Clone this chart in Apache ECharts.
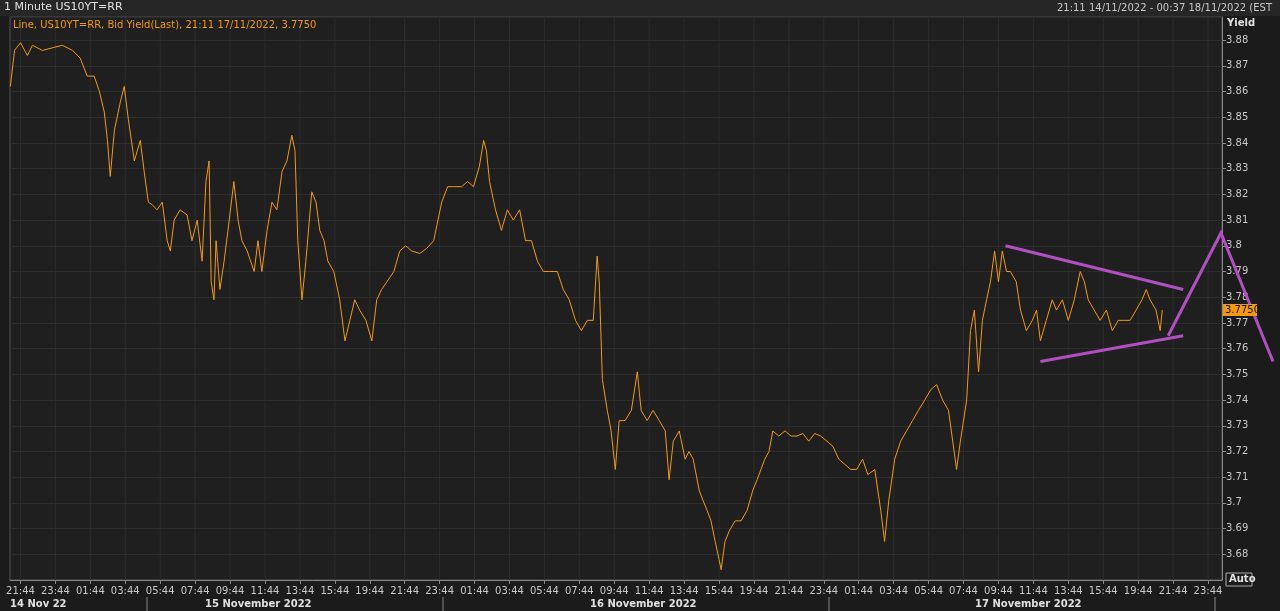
<!DOCTYPE html>
<html>
<head>
<meta charset="utf-8">
<script src="https://cdn.jsdelivr.net/npm/echarts@6/dist/echarts.min.js"></script>
<style>
  html, body { margin: 0; padding: 0; background: #1b1b1b; }
  #chart { width: 1280px; height: 611px; }
</style>
</head>
<body>
<div id="chart"></div>
<script>
// tick labels (one per 2-hour slot, 17:44 gap skipped)
var dayTicks = ['01:44', '03:44', '05:44', '07:44', '09:44', '11:44', '13:44', '15:44', '19:44', '21:44', '23:44'];
var tickLabels = ['21:44', '23:44'].concat(dayTicks, dayTicks, dayTicks);
var dayLabels = ['14 Nov 22', '15 November 2022', '16 November 2022', '17 November 2022'];

// x in tick slots (0 = 21:44 14 Nov), y = bid yield
var slots = [-0.29, -0.17, 0, 0.2, 0.34, 0.63, 0.91, 1.2, 1.49, 1.71, 1.91, 2.11, 2.26, 2.4, 2.49, 2.57, 2.69, 2.86, 2.97, 3.09,
  3.26, 3.43, 3.54, 3.66, 3.77, 3.91, 4.06, 4.2, 4.29, 4.4, 4.57, 4.77, 4.91, 5.06, 5.2, 5.31, 5.4, 5.46, 5.54, 5.6,
  5.71, 5.83, 5.94, 6.11, 6.23, 6.34, 6.49, 6.69, 6.8, 6.91, 7.06, 7.2, 7.34, 7.49, 7.63, 7.77, 7.86, 7.94, 8.06, 8.17,
  8.34, 8.46, 8.57, 8.69, 8.8, 8.97, 9.14, 9.29, 9.43, 9.57, 9.71, 9.89, 10.06, 10.2, 10.34, 10.49, 10.69, 10.86, 11.03, 11.2,
  11.43, 11.63, 11.83, 12.06, 12.23, 12.4, 12.63, 12.8, 12.97, 13.14, 13.26, 13.34, 13.43, 13.6, 13.77, 13.94, 14.11, 14.29, 14.46, 14.63,
  14.8, 14.97, 15.14, 15.37, 15.54, 15.71, 15.89, 16.06, 16.23, 16.4, 16.51, 16.57, 16.66, 16.8, 16.91, 17.03, 17.14, 17.31, 17.49, 17.66,
  17.77, 17.94, 18.11, 18.29, 18.46, 18.57, 18.69, 18.86, 19.03, 19.14, 19.26, 19.43, 19.54, 19.66, 19.77, 19.89, 20, 20.06, 20.17, 20.29,
  20.46, 20.63, 20.8, 20.97, 21.09, 21.2, 21.31, 21.43, 21.54, 21.71, 21.89, 22.06, 22.23, 22.4, 22.57, 22.74, 22.91, 23.09, 23.26, 23.43,
  23.6, 23.77, 23.94, 24.11, 24.26, 24.46, 24.63, 24.74, 24.86, 25.03, 25.2, 25.37, 25.54, 25.71, 25.89, 26.06, 26.23, 26.4, 26.57, 26.69,
  26.8, 26.91, 27.09, 27.2, 27.31, 27.43, 27.54, 27.66, 27.77, 27.89, 28, 28.11, 28.23, 28.34, 28.51, 28.63, 28.8, 28.97, 29.09, 29.2,
  29.37, 29.54, 29.66, 29.83, 30, 30.17, 30.34, 30.46, 30.57, 30.74, 30.91, 31.09, 31.26, 31.43, 31.6, 31.77, 31.94, 32.11, 32.23, 32.34,
  32.51, 32.63, 32.69];
var yields = [3.862, 3.876, 3.879, 3.874, 3.878, 3.876, 3.877, 3.878, 3.876, 3.873, 3.866, 3.866, 3.860, 3.852, 3.841, 3.827, 3.845, 3.856, 3.862, 3.849,
  3.833, 3.841, 3.829, 3.817, 3.816, 3.814, 3.817, 3.802, 3.798, 3.810, 3.814, 3.812, 3.802, 3.810, 3.794, 3.825, 3.833, 3.786, 3.779, 3.802,
  3.783, 3.794, 3.806, 3.825, 3.810, 3.802, 3.798, 3.790, 3.802, 3.790, 3.806, 3.817, 3.814, 3.829, 3.833, 3.843, 3.837, 3.802, 3.779, 3.794,
  3.821, 3.817, 3.806, 3.802, 3.794, 3.790, 3.779, 3.763, 3.771, 3.779, 3.775, 3.771, 3.763, 3.779, 3.783, 3.786, 3.790, 3.798, 3.800, 3.798,
  3.797, 3.799, 3.802, 3.817, 3.823, 3.823, 3.823, 3.825, 3.823, 3.831, 3.841, 3.837, 3.825, 3.814, 3.806, 3.814, 3.810, 3.814, 3.802, 3.802,
  3.794, 3.790, 3.790, 3.790, 3.783, 3.779, 3.771, 3.767, 3.771, 3.771, 3.796, 3.786, 3.748, 3.736, 3.728, 3.713, 3.732, 3.732, 3.736, 3.751,
  3.736, 3.732, 3.736, 3.732, 3.728, 3.709, 3.724, 3.728, 3.717, 3.720, 3.717, 3.705, 3.701, 3.697, 3.693, 3.685, 3.678, 3.674, 3.685, 3.689,
  3.693, 3.693, 3.697, 3.705, 3.709, 3.713, 3.717, 3.720, 3.728, 3.726, 3.728, 3.726, 3.726, 3.727, 3.724, 3.727, 3.726, 3.724, 3.722, 3.717,
  3.715, 3.713, 3.713, 3.717, 3.711, 3.713, 3.697, 3.685, 3.701, 3.717, 3.724, 3.728, 3.732, 3.736, 3.740, 3.744, 3.746, 3.740, 3.736, 3.724,
  3.713, 3.724, 3.740, 3.767, 3.775, 3.751, 3.771, 3.779, 3.786, 3.798, 3.786, 3.798, 3.790, 3.790, 3.786, 3.775, 3.767, 3.771, 3.775, 3.763,
  3.771, 3.779, 3.775, 3.779, 3.771, 3.779, 3.790, 3.786, 3.779, 3.775, 3.771, 3.775, 3.767, 3.771, 3.771, 3.771, 3.775, 3.779, 3.783, 3.779,
  3.775, 3.767, 3.775];
var lastValue = 3.7750;

// hand-drawn triangle / breakout annotations [slot, yield]
var trendUpper = [[28.2, 3.800], [33.29, 3.783]];
var trendLower = [[29.2, 3.755], [33.29, 3.765]];
var breakout = [[32.86, 3.765], [34.37, 3.805], [35.86, 3.755]];

var lineData = [];
for (var i = 0; i < slots.length; i++) {
  lineData.push([slots[i], yields[i]]);
}
var tickIdx = tickLabels.map(function (l, i) { return i; });

var chart = echarts.init(document.getElementById('chart'));
var txt = '#c8c8c8';
var font = '"DejaVu Sans", sans-serif';

function purple(data) {
  return {
    type: 'line', data: data, symbol: 'none', silent: true,
    lineStyle: { color: '#b04fc0', width: 3 }, z: 5
  };
}

chart.setOption({
  backgroundColor: '#1b1b1b',
  animation: false,
  textStyle: { fontFamily: font },
  grid: { left: 10, right: 58, top: 17, bottom: 31, show: true, backgroundColor: '#1f1f1f', borderColor: '#555', borderWidth: 1 },
  xAxis: {
    type: 'value', min: -0.3, max: 34.4,
    axisLine: { show: true, onZero: false, lineStyle: { color: '#888' } },
    axisTick: { show: true, customValues: tickIdx, length: 4, lineStyle: { color: '#888' } },
    axisLabel: {
      customValues: tickIdx,
      formatter: function (v) { return tickLabels[Math.round(v)]; },
      color: txt, fontSize: 10, margin: 6
    },
    splitLine: { show: false }
  },
  yAxis: {
    type: 'value', position: 'right', min: 3.67, max: 3.889, interval: 0.01,
    axisLine: { show: true, onZero: false, lineStyle: { color: '#888' } },
    axisTick: { show: true, length: 4, lineStyle: { color: '#888' } },
    axisLabel: {
      showMinLabel: false, showMaxLabel: false, color: txt, fontSize: 10, margin: 4,
      formatter: function (v) { return String(+v.toFixed(2)); }
    },
    splitLine: { show: true, lineStyle: { color: '#2c2c2c' } }
  },
  series: [
    { type: 'line', data: lineData, symbol: 'none', lineStyle: { color: '#f39a0d', width: 1 } },
    purple(trendUpper),
    purple(trendLower)
  ]
});

// vertical grid lines, breakout arrow (runs past the plot) and last-value tag
var g = [];
tickIdx.forEach(function (i) {
  var px = chart.convertToPixel({ xAxisIndex: 0 }, i);
  g.push({ type: 'line', silent: true, z: 0, shape: { x1: px, y1: 17, x2: px, y2: 580 }, style: { stroke: '#2c2c2c' } });
});
var bp = breakout.map(function (p) { return chart.convertToPixel({ gridIndex: 0 }, p); });
g.push({ type: 'polyline', z: 10, shape: { points: bp }, style: { stroke: '#b04fc0', lineWidth: 3, fill: null } });
var ly = chart.convertToPixel({ yAxisIndex: 0 }, lastValue);
g.push({ type: 'rect', z: 10, shape: { x: 1223, y: ly - 6, width: 34, height: 12 }, style: { fill: '#f39a0d' } });
g.push({ type: 'text', z: 11, x: 1225, y: ly - 5, style: { text: lastValue.toFixed(4), fill: '#111', font: '10px ' + font } });

g.push(
  { type: 'rect', shape: { x: 0, y: 0, width: 1280, height: 16 }, style: { fill: '#262626' } },
  { type: 'text', left: 4, top: 2, style: { text: '1 Minute US10YT=RR', fill: '#e0e0e0', font: '11px ' + font } },
  { type: 'text', right: 8, top: 3, style: { text: '21:11 14/11/2022 - 00:37 18/11/2022 (EST', fill: txt, font: '10px ' + font } },
  { type: 'text', left: 13, top: 20, style: { text: 'Line, US10YT=RR, Bid Yield(Last), 21:11 17/11/2022, 3.7750', fill: '#f39a0d', font: '10px ' + font } },
  { type: 'text', left: 1227, top: 18, style: { text: 'Yield', fill: '#e0e0e0', font: 'bold 10px ' + font } },
  { type: 'rect', shape: { x: 1226, y: 573, width: 26, height: 13 }, style: { fill: '#1b1b1b', stroke: '#aaa' } },
  { type: 'text', left: 1229, top: 574, style: { text: 'Auto', fill: '#e0e0e0', font: 'bold 10px ' + font } },
  { type: 'line', shape: { x1: 147, y1: 597, x2: 147, y2: 611 }, style: { stroke: '#888' } },
  { type: 'line', shape: { x1: 443, y1: 597, x2: 443, y2: 611 }, style: { stroke: '#888' } },
  { type: 'line', shape: { x1: 829, y1: 597, x2: 829, y2: 611 }, style: { stroke: '#888' } },
  { type: 'line', shape: { x1: 1215, y1: 597, x2: 1215, y2: 611 }, style: { stroke: '#888' } },
  { type: 'text', left: 10, top: 599, style: { text: dayLabels[0], fill: '#e0e0e0', font: 'bold 10px ' + font } },
  { type: 'text', left: 205, top: 599, style: { text: dayLabels[1], fill: '#e0e0e0', font: 'bold 10px ' + font } },
  { type: 'text', left: 590, top: 599, style: { text: dayLabels[2], fill: '#e0e0e0', font: 'bold 10px ' + font } },
  { type: 'text', left: 975, top: 599, style: { text: dayLabels[3], fill: '#e0e0e0', font: 'bold 10px ' + font } }
);
chart.setOption({ graphic: g });
</script>
</body>
</html>
